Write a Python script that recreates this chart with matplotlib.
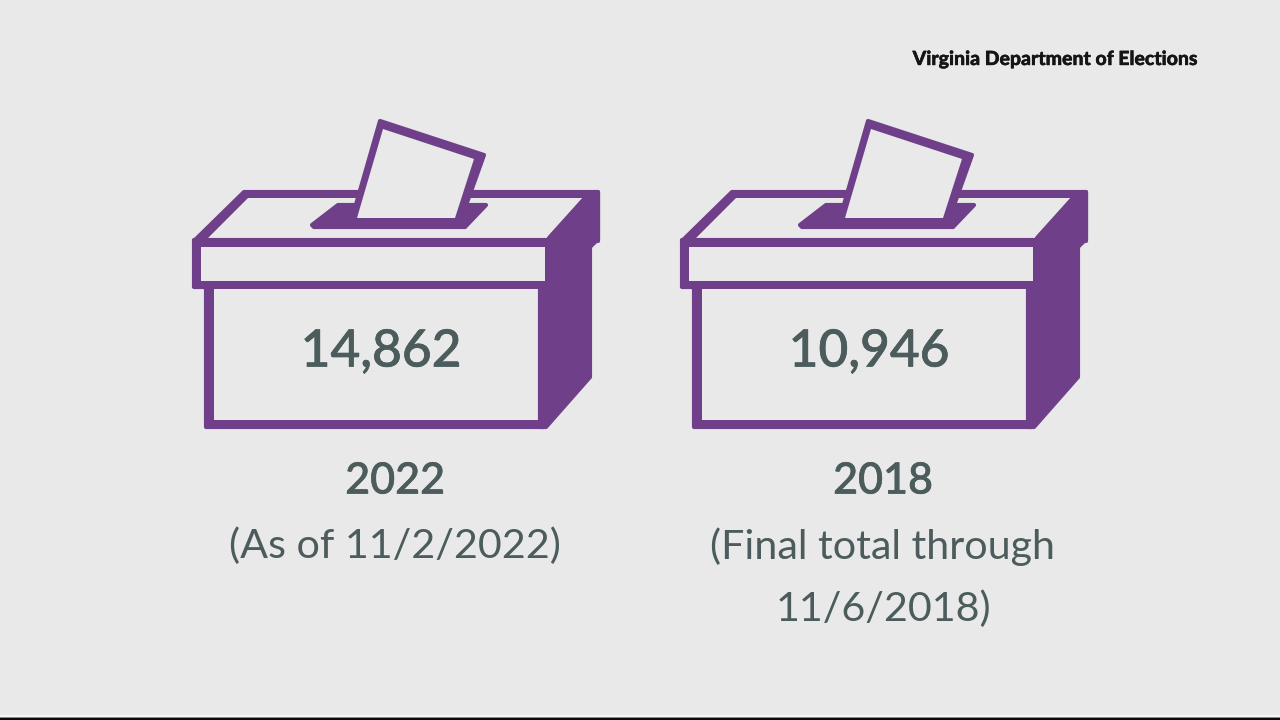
import matplotlib
matplotlib.use('Agg')
import matplotlib.pyplot as plt
import matplotlib.patheffects as pe
from matplotlib.patches import Polygon, Rectangle

counts = ['14,862', '10,946']
years = ['2022', '2018']
notes = [['(As of 11/2/2022)'], ['(Final total through', '11/6/2018)']]
source = 'Virginia Department of Elections'

PURPLE = '#6f3f8a'
GREY = '#4c5c5c'
BG = '#e9e9e9'

plt.rcParams['font.family'] = ['Lato', 'DejaVu Sans']

# icon outline in pixels, for the left box
lid_top = [(194, 241), (244, 192), (598, 192), (598, 241)]
lid_top_in = [(208, 238), (248, 198), (583, 198), (547, 238)]
side = [(549, 238), (585, 198), (598, 192), (598, 239), (590, 247),
        (590, 377), (546, 427), (540, 427), (540, 288), (549, 288)]
slot = [(312, 225), (338, 205), (486, 205), (465, 227), (314, 227)]
ballot = [(380, 121), (484, 155), (460, 222), (351, 222)]
ballot_in = [(383, 129), (474, 159), (455, 218), (357, 218)]


def poly(ax, pts, dx, color, lw=0):
    ax.add_patch(Polygon([(x + dx, y) for x, y in pts], closed=True, facecolor=color,
                         edgecolor=color, joinstyle='round', lw=lw))


def rect(ax, x0, y0, x1, y1, color, lw=0):
    ax.add_patch(Rectangle((x0, y0), x1 - x0, y1 - y0, facecolor=color, edgecolor=color,
                           joinstyle='round', lw=lw))


def draw_box(ax, dx):
    poly(ax, lid_top, dx, PURPLE, lw=3)
    poly(ax, lid_top_in, dx, BG)
    rect(ax, 194 + dx, 240, 550 + dx, 287, PURPLE, lw=3)
    rect(ax, 201 + dx, 247, 545 + dx, 281, BG)
    rect(ax, 206 + dx, 288, 543 + dx, 427, PURPLE, lw=3)
    rect(ax, 214 + dx, 289, 538 + dx, 420, BG)
    poly(ax, side, dx, PURPLE, lw=3)
    poly(ax, slot, dx, PURPLE, lw=3)
    poly(ax, ballot, dx, PURPLE, lw=3)
    poly(ax, ballot_in, dx, BG)


fig = plt.figure(figsize=(12.8, 7.2), dpi=100, facecolor=BG)
ax = fig.add_axes([0, 0, 1, 1])
ax.set_xlim(0, 1280)
ax.set_ylim(720, 0)
ax.axis('off')

heavy = [pe.withStroke(linewidth=0.5, foreground=GREY)]
offsets = [0, 488]
for i, dx in enumerate(offsets):
    draw_box(ax, dx)
    ax.text(381 + dx, 348, counts[i], color=GREY, fontsize=37, fontweight='medium',
            ha='center', va='center_baseline', path_effects=heavy)
    ax.text(395 + dx, 478, years[i], color=GREY, fontsize=31, fontweight='medium',
            ha='center', va='center_baseline', path_effects=heavy)
    for j, line in enumerate(notes[i]):
        ax.text(395 + dx, 543 + 63 * j, line, color=GREY, fontsize=29.7,
                ha='center', va='center_baseline')

ax.text(1199, 58, source, color='#151515', fontsize=14, fontweight='black',
        ha='right', va='center_baseline',
        path_effects=[pe.withStroke(linewidth=0.3, foreground='#151515')])

# bottom edge of the video frame
rect(ax, 0, 715, 1280, 717, '#f6f6f6')
rect(ax, 0, 716.5, 1280, 718, '#8a8a8a')
rect(ax, 0, 718, 1280, 720, '#0a0a0a')

fig.savefig('out.png', dpi=100, facecolor=BG)
